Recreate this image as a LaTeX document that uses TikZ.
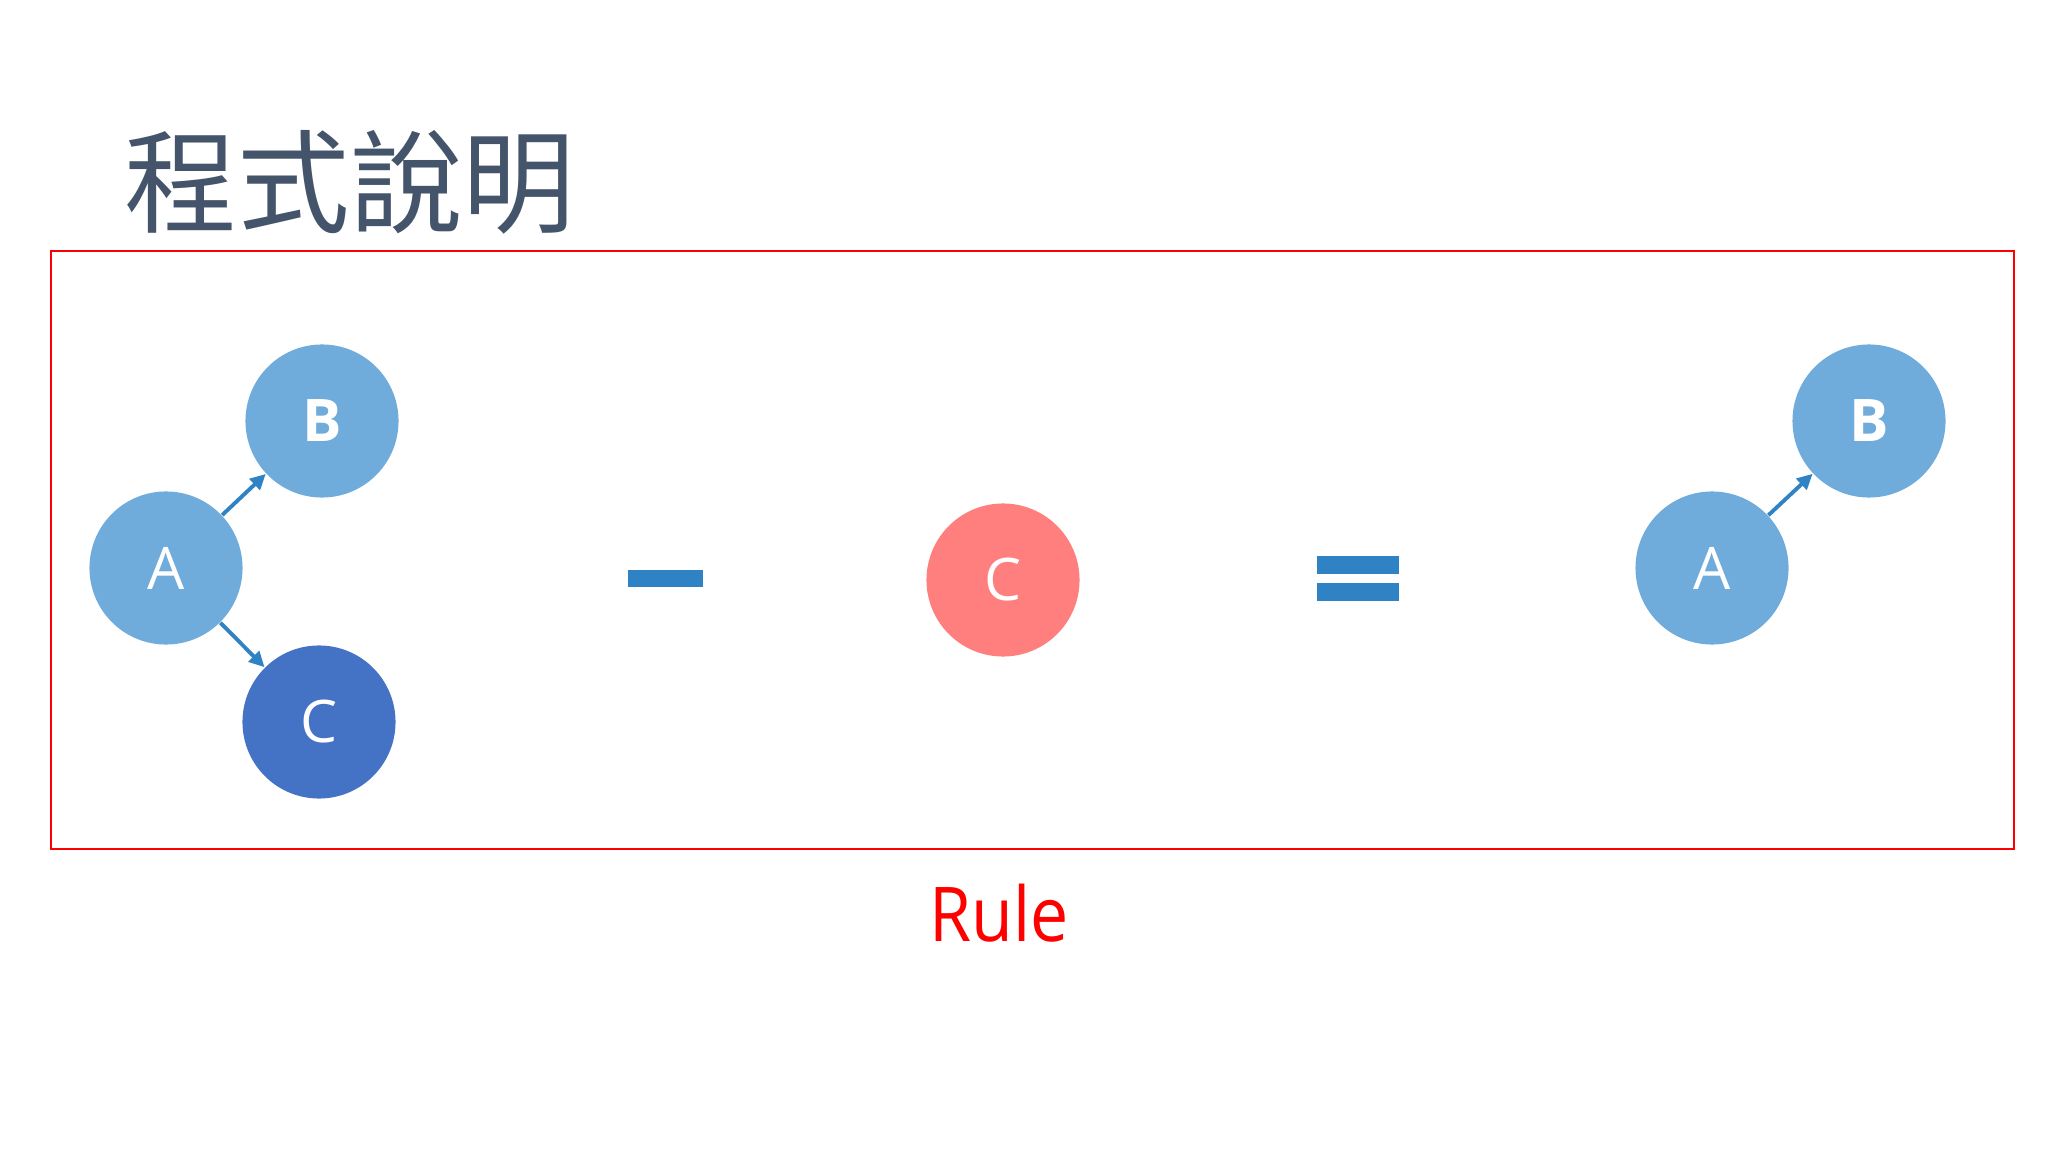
\documentclass[tikz,border=0pt]{standalone}
\usepackage{fontspec}
\setmainfont{Open Sans}
\newfontfamily\cjk{Noto Sans CJK TC}
\usepackage{tikz}
\usetikzlibrary{arrows.meta}
\definecolor{nodeblue}{HTML}{6FABDB}
\definecolor{deepblue}{HTML}{4472C4}
\definecolor{salmon}{HTML}{FF7F7F}
\definecolor{linkblue}{HTML}{2F83C5}
\definecolor{titlegray}{HTML}{44546A}

\begin{document}
\begin{tikzpicture}[x=0.01cm,y=-0.01cm,
	ball/.style={circle, fill=#1, minimum size=1.53cm, inner sep=0pt, text=white, font=\fontsize{16.7}{20}\selectfont},
	link/.style={draw=linkblue, line width=1.1pt, -{Triangle[length=4.4pt,width=4.2pt]}},
	bar/.style={fill=linkblue}]
	
	\useasboundingbox (0,0) rectangle (2048,1152);
	
	\node[text=titlegray, font=\cjk\fontsize{32}{38}\selectfont, inner sep=0pt] (title) at (350,182) {程式說明};
	\draw[red, line width=0.6pt] (51,251) rectangle (2014,849);
	
	% left graph
	\node[ball=nodeblue] (a1) at (166,568) {A};
	\node[ball=nodeblue] (b1) at (322,421) {\bfseries B};
	\node[ball=deepblue] (c1) at (319,722) {C};
	\draw[link] (a1) -- (b1);
	\draw[link] (a1) -- (c1);
	
	% minus
	\fill[bar] (628,570) rectangle (703,587);
	
	\node[ball=salmon] (c2) at (1003,580) {C};
	
	% equals
	\fill[bar] (1317,556) rectangle (1399,574);
	\fill[bar] (1317,583) rectangle (1399,601);
	
	% right graph
	\node[ball=nodeblue] (a3) at (1712,568) {A};
	\node[ball=nodeblue] (b3) at (1869,421) {\bfseries B};
	\draw[link] (a3) -- (b3);
	
	\node[text=red, font=\fontsize{21.5}{26}\selectfont, inner sep=0pt, anchor=base, xscale=0.9] (rule) at (999,941) {Rule};
\end{tikzpicture}
\end{document}
